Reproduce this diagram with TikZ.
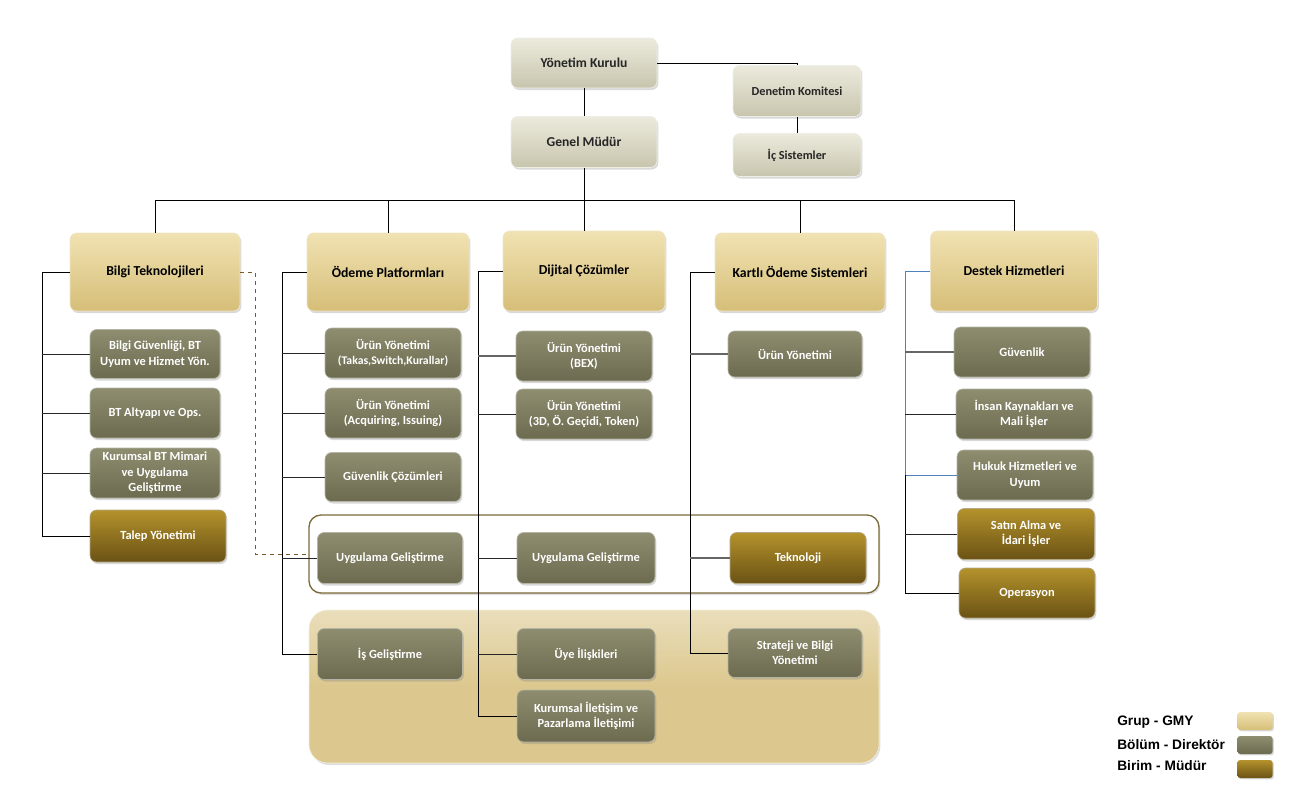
\documentclass[tikz,border=0pt]{standalone}
\usepackage{fontspec}
\setmainfont{Carlito}
\newfontfamily\arialf{Liberation Sans}
\usetikzlibrary{shadows}
\definecolor{topT}{HTML}{ECEADC}
\definecolor{topB}{HTML}{C8C5AE}
\definecolor{grpT}{HTML}{F0E2B2}
\definecolor{grpB}{HTML}{D6BE78}
\definecolor{oliT}{HTML}{8E8D70}
\definecolor{oliB}{HTML}{6C6B4F}
\definecolor{dgT}{HTML}{B4922C}
\definecolor{dgB}{HTML}{6A5214}
\definecolor{contF}{HTML}{DCC88E}
\definecolor{contL}{HTML}{7A6A3A}
\definecolor{dashC}{HTML}{7A5A2A}
\definecolor{blueL}{HTML}{4F81BD}
\begin{document}
\begin{tikzpicture}[x=0.75pt,y=-0.75pt,
  sz/.style 2 args={minimum width=#1*0.75pt, minimum height=#2*0.75pt},
  base/.style={rounded corners=5pt, align=center, inner sep=1pt,
    drop shadow={shadow xshift=1pt, shadow yshift=-1.5pt, opacity=0.3}},
  topbox/.style={base, top color=topT, bottom color=topB, draw=white!70!topB, line width=0.5pt,
    text=black!85, font=\fontsize{10.2}{12}\selectfont\bfseries},
  grpbox/.style={base, top color=grpT, bottom color=grpB, draw=white!60!grpB, line width=0.5pt,
    text=black, font=\fontsize{10.3}{12.3}\selectfont\bfseries},
  olibox/.style={base, top color=oliT, bottom color=oliB, draw=white!50!oliB, line width=0.5pt,
    text=white, font=\fontsize{9.3}{11.5}\selectfont\bfseries},
  dgbox/.style={base, top color=dgT, bottom color=dgB, draw=white!50!dgB, line width=0.5pt,
    text=white, font=\fontsize{9.3}{11.5}\selectfont\bfseries},
  conn/.style={draw=black, line width=0.7pt},
  sub/.style={draw=black!85, line width=0.7pt},
  subg/.style={draw=black!60, line width=0.8pt},
  legt/.style={anchor=west, inner sep=0pt, font=\arialf\fontsize{10.3}{11}\selectfont\bfseries},
  legs/.style={rounded corners=2pt, sz={35}{18}, drop shadow={shadow xshift=1pt, shadow yshift=-1pt, opacity=0.3}}
]
\useasboundingbox (0,0) rectangle (1301,786);

% containers
\node[draw=contL, line width=1pt, rounded corners=9pt, fill=white, sz={570}{78},
  drop shadow={shadow xshift=1pt, shadow yshift=-1.5pt, opacity=0.25}] (c1) at (594,554) {};
\node[top color=white!40!contF, bottom color=contF, middle color=contF, draw=white!70!contF, rounded corners=14pt, sz={570}{153},
  drop shadow={shadow xshift=1pt, shadow yshift=-1.5pt, opacity=0.25}] (c2) at (594,686.5) {};

% coordinates
\coordinate (bus) at (0,200);
\coordinate (btx) at (42,0);
\coordinate (opx) at (282,0);
\coordinate (dcx) at (478,0);
\coordinate (kox) at (690,0);
\coordinate (dhx) at (905,0);
\coordinate (dsh) at (255,0);
\coordinate (dhm) at (0,475);

% top nodes
\node[topbox, sz={146}{50}] (yk) at (584,63) {Yönetim Kurulu};
\node[topbox, sz={128}{51}, font=\fontsize{9.2}{11}\selectfont\bfseries] (dk) at (797,91) {Denetim Komitesi};
\node[topbox, sz={128}{43}, font=\fontsize{9.2}{11}\selectfont\bfseries] (is) at (797,155) {İç Sistemler};
\node[topbox, sz={146}{51}] (gm) at (584,142) {Genel Müdür};

% group heads
\node[grpbox, sz={170}{78}] (bt) at (155,272) {Bilgi Teknolojileri};
\node[grpbox, sz={162}{78}] (op) at (388,272) {Ödeme Platformları};
\node[grpbox, sz={162}{80}] (dc) at (584,271) {Dijital Çözümler};
\node[grpbox, sz={170}{78}] (ko) at (800,272) {Kartlı Ödeme Sistemleri};
\node[grpbox, sz={167}{80}] (dh) at (1014,271) {Destek Hizmetleri};

% Bilgi Teknolojileri children
\node[olibox, sz={130}{49}] (bg) at (155,354) {Bilgi Güvenliği, BT\\Uyum ve Hizmet Yön.};
\node[olibox, sz={130}{50}] (ba) at (155,413) {BT Altyapı ve Ops.};
\node[olibox, sz={130}{50}] (km) at (155,473) {Kurumsal BT Mimari\\ve Uygulama\\Geliştirme};
\node[dgbox, sz={136}{52}] (ty) at (158,536) {Talep Yönetimi};

% Odeme Platformlari children
\node[olibox, sz={136}{50}] (u1) at (393,353) {Ürün Yönetimi\\{\fontsize{8.8}{11}\selectfont(Takas,Switch,Kurallar)}};
\node[olibox, sz={136}{50}] (u2) at (393,413) {Ürün Yönetimi\\(Acquiring, Issuing)};
\node[olibox, sz={136}{49}] (gc) at (393,477) {Güvenlik Çözümleri};
\node[olibox, sz={145}{51}] (ug1) at (390,558) {Uygulama Geliştirme};
\node[olibox, sz={145}{51}] (ig) at (390,654) {İş Geliştirme};

% Dijital Cozumler children
\node[olibox, sz={136}{50}] (u3) at (584,356) {Ürün Yönetimi\\(BEX)};
\node[olibox, sz={136}{50}] (u4) at (584,414) {Ürün Yönetimi\\(3D, Ö. Geçidi, Token)};
\node[olibox, sz={138}{51}] (ug2) at (586,558) {Uygulama Geliştirme};
\node[olibox, sz={138}{51}] (ui) at (586,654) {Üye İlişkileri};
\node[olibox, sz={138}{52}] (ki) at (586,716) {Kurumsal İletişim ve\\Pazarlama İletişimi};

% Kartli Odeme children
\node[olibox, sz={134}{46}] (u5) at (795,354) {Ürün Yönetimi};
\node[dgbox, sz={136}{51}] (tk) at (798,558) {Teknoloji};
\node[olibox, sz={134}{49}] (sb) at (795,653) {Strateji ve Bilgi\\Yönetimi};

% Destek Hizmetleri children
\node[olibox, sz={136}{50}] (gv) at (1022,352) {Güvenlik};
\node[olibox, sz={136}{50}] (ik) at (1024,414) {İnsan Kaynakları ve\\Mali İşler};
\node[olibox, sz={136}{50}] (hh) at (1025,475) {Hukuk Hizmetleri ve\\Uyum};
\node[dgbox, sz={137}{51}] (sa) at (1026,534) {Satın Alma ve\\İdari İşler};
\node[dgbox, sz={136}{50}] (os) at (1027,593) {Operasyon};

% top connectors
\draw[conn] (yk.south) -- (gm.north);
\draw[conn] (yk.east) -| (dk.north);
\draw[conn] (dk.south) -- (is.north);
\draw[conn] (gm.south) -- (gm.south |- bus);
\draw[conn] (bt.north) |- (dh.north |- bus) -- (dh.north);
\draw[conn] (op.north) -- (op.north |- bus);
\draw[conn] (dc.north) -- (dc.north |- bus);
\draw[conn] (ko.north) -- (ko.north |- bus);

% Bilgi Teknolojileri
\draw[conn] (bt.west) -| (btx |- ty.west) -- (ty.west);
\draw[sub] (btx |- bg.west) -- (bg.west);
\draw[sub] (btx |- ba.west) -- (ba.west);
\draw[sub] (btx |- km.west) -- (km.west);
\draw[dashed, draw=dashC, line width=0.7pt] (bt.east) -| (dsh |- c1.west) -- (c1.west);

% Odeme Platformlari
\draw[conn] (op.west) -| (opx |- ig.west) -- (ig.west);
\draw[sub] (opx |- u1.west) -- (u1.west);
\draw[sub] (opx |- u2.west) -- (u2.west);
\draw[sub] (opx |- gc.west) -- (gc.west);
\draw[sub] (opx |- ug1.west) -- (ug1.west);

% Dijital Cozumler
\draw[conn] (dc.west) -| (dcx |- ki.west) -- (ki.west);
\draw[subg] (dcx |- u3.west) -- (u3.west);
\draw[sub] (dcx |- u4.west) -- (u4.west);
\draw[sub] (dcx |- ug2.west) -- (ug2.west);
\draw[sub] (dcx |- ui.west) -- (ui.west);

% Kartli Odeme
\draw[conn] (ko.west) -| (kox |- sb.west) -- (sb.west);
\draw[subg] (kox |- u5.west) -- (u5.west);
\draw[subg] (kox |- tk.west) -- (tk.west);

% Destek Hizmetleri
\draw[draw=blueL, line width=0.7pt] (dh.west) -| (dhx |- dhm) -- (hh.west);
\draw[conn] (dhx |- dhm) |- (os.west);
\draw[subg] (dhx |- gv.west) -- (gv.west);
\draw[sub] (dhx |- ik.west) -- (ik.west);
\draw[sub] (dhx |- sa.west) -- (sa.west);

% legend
\node[legt] (l1) at (1117,722) {Grup - GMY};
\node[legt] (l2) at (1117,745) {Bölüm - Direktör};
\node[legt] (l3) at (1117,766) {Birim - Müdür};
\node[legs, top color=grpT, bottom color=grpB] (s1) at (1255,721) {};
\node[legs, top color=oliT, bottom color=oliB] (s2) at (1255,745) {};
\node[legs, top color=dgT, bottom color=dgB] (s3) at (1255,769) {};
\end{tikzpicture}
\end{document}
